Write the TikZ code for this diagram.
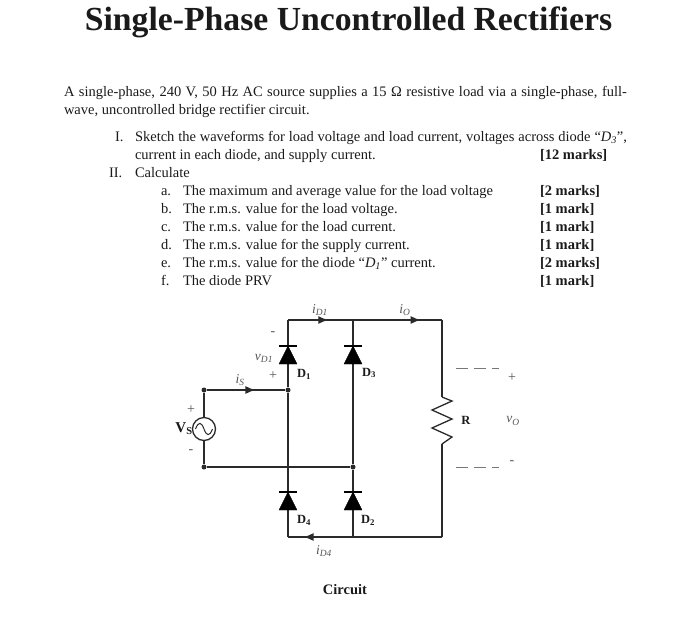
\documentclass[tikz,border=0pt]{standalone}
\usepackage{fontspec}
\setmainfont{Liberation Serif}
\usetikzlibrary{arrows.meta,decorations.markings}
\definecolor{ink}{HTML}{1A1A1A}
\definecolor{wirec}{HTML}{2A2A2A}
\definecolor{soft}{HTML}{555555}
\newcommand{\bodyfs}{\fontsize{14.5}{17}\selectfont}
\tikzset{
  txt/.style={anchor=base west,inner sep=0pt,outer sep=0pt,text=ink,font=\bodyfs},
  mrk/.style={txt,font=\bodyfs\bfseries},
  wire/.style={draw=wirec,line width=1.3pt},
  junction/.style={circle,fill=wirec,inner sep=0pt,minimum size=5pt},
  lbl/.style={inner sep=0pt,text=soft,font=\fontsize{13.5}{15}\selectfont\itshape},
  dlbl/.style={inner sep=0pt,text=ink,font=\fontsize{12.5}{14}\selectfont\bfseries},
  sgn/.style={inner sep=0pt,text=soft,font=\fontsize{14}{15}\selectfont},
  dashline/.style={draw=soft!80,line width=0.9pt,dash pattern=on 12pt off 6pt},
  flow/.style={postaction={decorate},decoration={markings,mark=at position #1 with {\arrow[wirec]{Latex[length=10pt,width=8pt]}}}},
  diodetri/.style={fill=black,draw=black,line width=0.3pt,line join=miter},
  diodebar/.style={draw=black,line width=1.3pt},
}
\begin{document}
\begin{tikzpicture}[x=1pt,y=-1pt]
\useasboundingbox (0,0) rectangle (700,627);
% Title
\node[anchor=base,inner sep=0pt,text=ink,font=\fontsize{33.7}{38}\selectfont\bfseries] (title) at (348.5,30) {Single-Phase Uncontrolled Rectifiers};
% Body
\node[txt] (p1) at (64,96) {\makebox[563pt][s]{A single-phase, 240 V, 50 Hz AC source supplies a 15 Ω resistive load via a single-phase, full-}};
\node[txt] (p2) at (64,114) {wave, uncontrolled bridge rectifier circuit.};
\node[txt] (i1) at (115,141) {I.};
\node[txt] (i1a) at (135,141) {\makebox[492pt][s]{Sketch the waveforms for load voltage and load current, voltages across diode “\textit{D\textsubscript{3}}”,}};
\node[txt] (i1b) at (135,159) {current in each diode, and supply current.};
\node[mrk] (m0) at (540,159) {[12 marks]};
\node[txt] (i2) at (109,177) {II.};
\node[txt] (i2a) at (135,177) {Calculate};
\node[txt] (la) at (161,195) {a.}; \node[txt] (ta) at (183,195) {The maximum and average value for the load voltage};
\node[txt] (lb) at (161,213) {b.}; \node[txt] (tb) at (183,213) {The r.m.s. value for the load voltage.};
\node[txt] (lc) at (161,231) {c.}; \node[txt] (tc) at (183,231) {The r.m.s. value for the load current.};
\node[txt] (ld) at (161,249) {d.}; \node[txt] (td) at (183,249) {The r.m.s. value for the supply current.};
\node[txt] (le) at (161,267) {e.}; \node[txt] (te) at (183,267) {The r.m.s. value for the diode “\textit{D\textsubscript{1}}” current.};
\node[txt] (lf) at (161,285) {f.};  \node[txt] (tf) at (183,285) {The diode PRV};
\node[mrk] (ma) at (540,195) {[2 marks]};
\node[mrk] (mb) at (540,213) {[1 mark]};
\node[mrk] (mc) at (540,231) {[1 mark]};
\node[mrk] (md) at (540,249) {[1 mark]};
\node[mrk] (me) at (540,267) {[2 marks]};
\node[mrk] (mf) at (540,285) {[1 mark]};
% Circuit points
\coordinate (tl) at (288,320);
\coordinate (tm) at (353,320);
\coordinate (tr) at (442,320);
\coordinate (bl) at (288,537);
\coordinate (bm) at (353,537);
\coordinate (br) at (442,537);
\coordinate (rt) at (442,397);
\coordinate (rb) at (442,444);
\node[junction] (ja) at (204,390) {};
\node[junction] (jb) at (288,390) {};
\node[junction] (jc) at (204,467) {};
\node[junction] (jd) at (353,467) {};
\node[circle,draw=wirec,line width=1.3pt,minimum size=23pt,inner sep=0pt] (src) at (204,429) {};
\coordinate (jm) at (288,467);
% Wires
\draw[wire,flow=0.62] (tl) -- (tm);
\draw[wire,flow=0.76] (tm) -- (tr);
\draw[wire] (tr) -- (rt);
\draw[wire,line join=miter] (rt) -- ++(10,4) -- ++(-20,9) -- ++(20,9) -- ++(-20,9) -- ++(20,9) -- ++(-10,7) -- (rb);
\draw[wire] (rb) -- (br);
\draw[wire] (br) -- (bm);
\draw[wire,flow=0.76] (bm) -- (bl);
\draw[wire] (tl) -- (jb) -- (jm) -- (bl);
\draw[wire] (tm) -- (jd) -- (bm);
\draw[wire,flow=0.62] (ja) -- (jb);
\draw[wire] (ja) -- (src);
\draw[wire] (src) -- (jc);
\draw[wire] (jc) -- (jd);
% Source sine
\draw[wirec,line width=1pt] (195.5,429) .. controls (198.5,421) and (201.5,422) .. (204,429) .. controls (206.5,436) and (209.5,437) .. (212.5,429);
% Diodes
\foreach \xx/\yy in {288/346,353/346,288/492,353/492}{
  \fill[diodetri] (\xx,\yy) -- (\xx+9,\yy+18) -- (\xx-9,\yy+18) -- cycle;
  \draw[diodebar] (\xx-9,\yy) -- (\xx+9,\yy);
}
% Diode labels
\node[dlbl] (d1) at (304,374) {D\textsubscript{1}};
\node[dlbl] (d3) at (369,373) {D\textsubscript{3}};
\node[dlbl] (d4) at (304,520) {D\textsubscript{4}};
\node[dlbl] (d2) at (368,520) {D\textsubscript{2}};
\node[dlbl] (rl) at (466,420) {R};
\node[dlbl,font=\fontsize{15}{16}\selectfont\bfseries] (vs) at (184,429) {V\textsubscript{S}};
\node[dlbl,font=\fontsize{14.5}{16}\selectfont\bfseries] (cap) at (345,590) {Circuit};
% Current and voltage labels
\node[lbl] (id1) at (320,310) {i\textsubscript{D1}};
\node[lbl] (io) at (405,310) {i\textsubscript{O}};
\node[lbl] (is) at (240,380) {i\textsubscript{S}};
\node[lbl] (id4) at (324,551) {i\textsubscript{D4}};
\node[lbl] (vd1) at (264,358) {v\textsubscript{D1}};
\node[lbl] (vo) at (513,421) {v\textsubscript{O}};
% Signs
\node[sgn] (s1) at (273,334) {-};
\node[sgn] (s2) at (273,376) {+};
\node[sgn] (s3) at (191,410) {+};
\node[sgn] (s4) at (191,452) {-};
\node[sgn] (s5) at (512,378) {+};
\node[sgn] (s6) at (512,463) {-};
% Dashed guide marks
\coordinate (g1a) at (456,368); \coordinate (g1b) at (499,368);
\coordinate (g2a) at (456,467); \coordinate (g2b) at (499,467);
\draw[dashline] (g1a) -- (g1b);
\draw[dashline] (g2a) -- (g2b);
\end{tikzpicture}
\end{document}
